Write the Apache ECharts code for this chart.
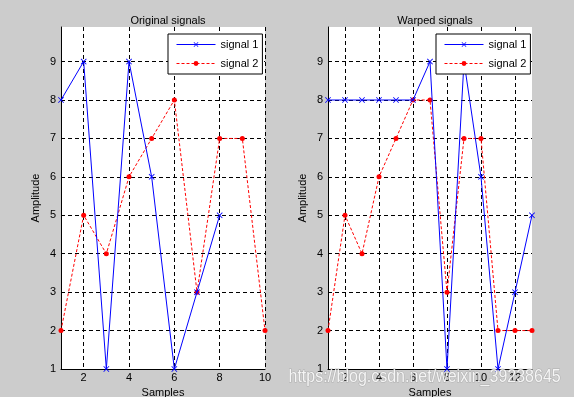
<!DOCTYPE html>
<html lang="en">
<head>
    <meta charset="UTF-8">
    <title>Original / Warped signals</title>
    <style>
        html, body { margin: 0; padding: 0; background: #cccccc; }
        #chart { width: 574px; height: 397px; }
    </style>
</head>
<body>
<div id="chart"></div>
<script src="https://cdn.jsdelivr.net/npm/echarts@6/dist/echarts.min.js"></script>
<script type="text/javascript">
    // data
    var origX1 = [1, 2, 3, 4, 5, 6, 7, 8];
    var origY1 = [8, 9, 1, 9, 6, 1, 3, 5];
    var origX2 = [1, 2, 3, 4, 5, 6, 7, 8, 9, 10];
    var origY2 = [2, 5, 4, 6, 7, 8, 3, 7, 7, 2];
    var warpX = [1, 2, 3, 4, 5, 6, 7, 8, 9, 10, 11, 12, 13];
    var warpY1 = [8, 8, 8, 8, 8, 8, 9, 1, 9, 6, 1, 3, 5];
    var warpY2 = [2, 5, 4, 6, 7, 8, 8, 3, 7, 7, 2, 2, 2];
    var origTicks = [2, 4, 6, 8, 10];
    var warpTicks = [2, 4, 6, 8, 10, 12];
    var ampTicks = [1, 2, 3, 4, 5, 6, 7, 8, 9];

    var FONT = 'Liberation Sans, Arial, sans-serif';
    var crossPath = 'path://M0,1L1,0L5,4L9,0L10,1L6,5L10,9L9,10L5,6L1,10L0,9L4,5Z';

    function pairs(xs, ys) {
        var out = [];
        for (var i = 0; i < xs.length; i++) out.push([xs[i], ys[i]]);
        return out;
    }

    function xAxisOf(idx, max, ticks) {
        return {
            type: 'value', gridIndex: idx, min: 1, max: max,
            name: 'Samples', nameLocation: 'middle', nameGap: 16,
            nameTextStyle: { color: '#000', fontSize: 11, fontFamily: FONT },
            axisLine: { show: true, onZero: false, lineStyle: { color: '#000', width: 1 } },
            axisTick: { show: false, customValues: ticks },
            axisLabel: { customValues: ticks, color: '#000', fontSize: 11, fontFamily: FONT, margin: 3 },
            splitLine: { show: true, lineStyle: { color: '#000', type: [4, 3], width: 1 } }
        };
    }

    function yAxisOf(idx) {
        return {
            type: 'value', gridIndex: idx, min: 1, max: 9.9,
            name: 'Amplitude', nameLocation: 'middle', nameGap: 20, nameRotate: 90,
            nameTextStyle: { color: '#000', fontSize: 11, fontFamily: FONT },
            axisLine: { show: true, onZero: false, lineStyle: { color: '#000', width: 1 } },
            axisTick: { show: false, customValues: ampTicks },
            axisLabel: { customValues: ampTicks, color: '#000', fontSize: 11, fontFamily: FONT, margin: 5 },
            splitLine: { show: true, lineStyle: { color: '#000', type: [4, 3], width: 1 } }
        };
    }

    function sig1(idx, data) {
        return {
            name: 'signal 1', type: 'line', xAxisIndex: idx, yAxisIndex: idx,
            data: data, symbol: crossPath, symbolSize: 6, showSymbol: true,
            lineStyle: { color: '#0000ff', width: 1 },
            itemStyle: { color: '#0000ff' },
            animation: false, z: 3
        };
    }

    function sig2(idx, data) {
        return {
            name: 'signal 2', type: 'line', xAxisIndex: idx, yAxisIndex: idx,
            data: data, symbol: 'circle', symbolSize: 5, showSymbol: true,
            lineStyle: { color: '#ff0000', width: 1, type: [3, 2] },
            itemStyle: { color: '#ff0000' },
            animation: false, z: 2
        };
    }

    function legendOf(left) {
        return {
            data: ['signal 1', 'signal 2'], orient: 'vertical',
            left: left, top: 34, itemWidth: 39, itemHeight: 6, itemGap: 8,
            padding: [5, 4, 5, 8],
            backgroundColor: '#fff', borderColor: '#000', borderWidth: 1, borderRadius: 0,
            lineStyle: { width: 1 },
            textStyle: { color: '#000', fontSize: 11, fontFamily: FONT },
            selectedMode: false
        };
    }

    var chart = echarts.init(document.getElementById('chart'));
    var option = {
        backgroundColor: '#cccccc',
        animation: false,
        title: [
            { text: 'Original signals', left: 163, top: 10, textAlign: 'center',
              textStyle: { color: '#000', fontSize: 11, fontWeight: 'normal', fontFamily: FONT } },
            { text: 'Warped signals', left: 430, top: 10, textAlign: 'center',
              textStyle: { color: '#000', fontSize: 11, fontWeight: 'normal', fontFamily: FONT } }
        ],
        legend: [legendOf(168), legendOf(436)],
        grid: [
            { left: 61, top: 27, width: 204, height: 342, outerBoundsMode: 'none',
              show: true, backgroundColor: '#fff', borderWidth: 0 },
            { left: 328, top: 27, width: 204, height: 342, outerBoundsMode: 'none',
              show: true, backgroundColor: '#fff', borderWidth: 0 }
        ],
        xAxis: [xAxisOf(0, 10, origTicks), xAxisOf(1, 13, warpTicks)],
        yAxis: [yAxisOf(0), yAxisOf(1)],
        series: [
            sig1(0, pairs(origX1, origY1)),
            sig2(0, pairs(origX2, origY2)),
            sig1(1, pairs(warpX, warpY1)),
            sig2(1, pairs(warpX, warpY2))
        ],
        graphic: [{
            type: 'text', left: 288, top: 367, z: 100, silent: true, scaleY: 1.15,
            style: { text: 'https://blog.csdn.net/weixin_39238645', fill: 'rgba(255,255,255,0.85)',
                     stroke: 'rgba(120,120,120,0.35)', lineWidth: 1,
                     font: '16px Liberation Sans, Arial, sans-serif' }
        }]
    };
    chart.setOption(option);
</script>
</body>
</html>
